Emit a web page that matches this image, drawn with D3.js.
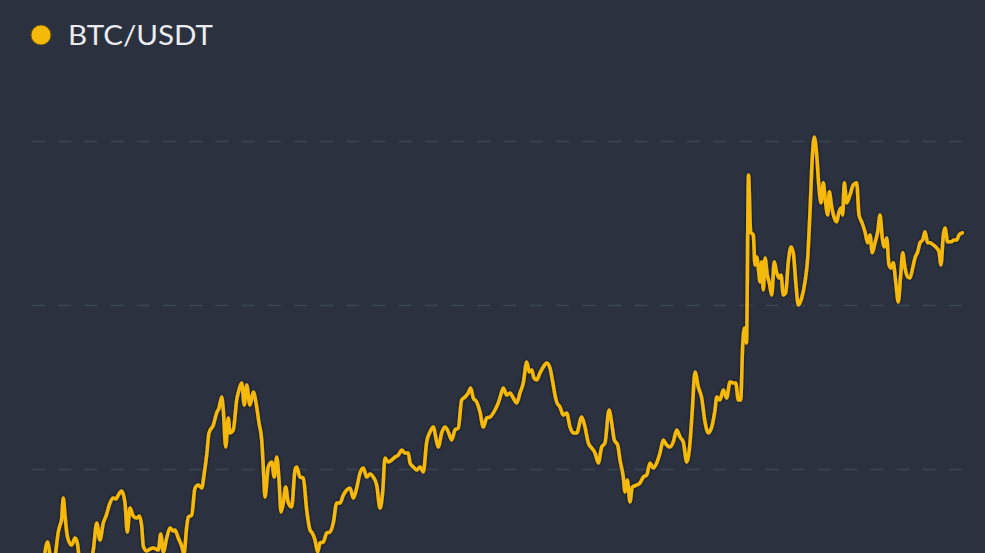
<!DOCTYPE html>
<html>
<head>
<meta charset="utf-8">
<script src="https://cdn.jsdelivr.net/npm/d3@7"></script>
<style>
  html, body { margin: 0; padding: 0; background: #2b313f; overflow: hidden; }
  svg { display: block; }
</style>
</head>
<body>
<svg id="chart" width="985" height="553"></svg>
<script>
// ---- data ----
const seriesName = "BTC/USDT";
const gridValues = [30000, 40000, 50000, 60000];
// [time index, price]
const btcPoints = [
  [0,34450],[2,35300],[3.7,35550],[5,35180],[7,34330],[10,34080],[12,35060],[14.3,36160],[16,36580],[17.5,36890],
  [19.3,38230],[21,37190],[22.7,36160],[24.3,35670],[27.7,35360],[31,35790],[33.3,35490],[35,34690],[38,33960],[43,33720],
  [47,34450],[49.3,35060],[52.7,36710],[56,35670],[59.3,36710],[62,37130],[66,37930],[69.3,38230],[72,38170],[74.3,38410],
  [77.7,38660],[81,37930],[83.3,36160],[86,37620],[89.3,37130],[92.7,37010],[95.3,37130],[97.7,36520],[99.3,35300],[102.7,35000],
  [106,35120],[109.3,35180],[114.3,35060],[116.7,36040],[119.3,34940],[122.7,35790],[126,36400],[129.3,36220],[131,36280],[134.3,35790],
  [137.7,35300],[140,34820],[142.7,36460],[144.3,37070],[147.7,37190],[151,38840],[154.3,39020],[157.7,38840],[160.3,39760],[162.7,40850],
  [165,42200],[169.3,42680],[172.7,43420],[175,43720],[177.7,44390],[179.3,43600],[181.7,41340],[184.3,43110],[186,42200],[189.3,42380],
  [192.7,44210],[195,44820],[197.7,45250],[200.3,43900],[202.7,45120],[206,43900],[209.3,44700],[212.7,43780],[215,42810],[217.7,41770],
  [219.3,40120],[221,38290],[224.3,40120],[227.7,40430],[230.3,39510],[232.7,40730],[235,39330],[237,37380],[239.3,37930],[241.7,38900],
  [244.3,37930],[247.7,37680],[251,39940],[252.7,40120],[256,39510],[259.3,39450],[262.7,37500],[266,36280],[268.3,36100],[271,35670],
  [273.7,34940],[276,35490],[279.3,35550],[282.7,36100],[286,36160],[289.3,36710],[292.7,37930],[296,37930],[299.3,38410],[302.7,38720],
  [306,38840],[309.3,38230],[312.7,38840],[316,39760],[319.3,40060],[322.7,39510],[326,39700],[329.3,39510],[332.7,39020],[336,37620],
  [338.7,38600],[341,40670],[344.3,40430],[347.7,40550],[351,40730],[354.3,40850],[357.7,41160],[361,40980],[364.3,40980],[366,40370],
  [369.3,40120],[372.7,39940],[376,40120],[379.3,39820],[382.7,41650],[386,42260],[389.3,42560],[392.7,41650],[394.3,41340],[397.7,42200],
  [401,42560],[404.3,42260],[407.7,41770],[411,42380],[414.3,42500],[417.7,44210],[421,44390],[424.3,44640],[426.7,44940],[429.3,44330],
  [432.7,44090],[436,43480],[439.3,42560],[442.7,43110],[446,43170],[451,43600],[454.3,44030],[457.7,44700],[459.3,44940],[462.7,44510],
  [466,44640],[469.3,44330],[472.7,44030],[476,44640],[479.3,45250],[482.7,46530],[485.3,45920],[487.7,46040],[490,45550],[492.7,45430],
  [496,45860],[499.3,46220],[502.7,46470],[506,46160],[508.7,45310],[511,44510],[512.7,44090],[516,43780],[519.3,43290],[522.7,43420],
  [526,42560],[529.3,42200],[532.7,42200],[537.7,43170],[541,42560],[544.3,41590],[547.7,41280],[551,40980],[554.3,40370],[557.7,41340],
  [561,41590],[565,43600],[567.7,42810],[570.3,41770],[573.7,41460],[576,40550],[579.3,39510],[581,38600],[583.3,39330],[586,37990],
  [588.3,38900],[592.7,39020],[596,39150],[599.3,39510],[602.7,39630],[606,40370],[609.3,40060],[612.7,40370],[616,40980],[619.3,41770],
  [622.7,41460],[626,41340],[629.3,41650],[632.7,42380],[636,41950],[639.3,41650],[642.7,40430],[646,41590],[648.3,43600],[651,45920],
  [654.3,45000],[657.7,44330],[661,42870],[664.3,42200],[667.7,42560],[671,43600],[672.7,44390],[676,44210],[679.3,44820],[682.7,44330],
  [686,45310],[689.3,45250],[691.7,45250],[694.3,44210],[696.7,44210],[698.7,47560],[700.5,48600],[702.5,47690],[704.5,57930],[706.7,54460],
  [709.3,54270],[711,52440],[712.7,52930],[714.3,52260],[716,51410],[717.7,52630],[719.3,50920],[721,52870],[723.3,51830],[725.3,51350],
  [727.7,50610],[730.3,52630],[732.7,51960],[735,51650],[737,51830],[739.3,50610],[741.7,50740],[744.3,52630],[747,53540],[749.3,53180],
  [752,51220],[754.3,50000],[757.7,50430],[761,51410],[763.7,52870],[766,55680],[768.3,58970],[770.3,60250],[772.7,59150],[775,57140],
  [777,56230],[779.3,57450],[781,56590],[783.7,55490],[785.3,56900],[787.7,55980],[790.3,55310],[792.7,55070],[795,55680],[797,55920],
  [798.7,55490],[800.3,57450],[802.7,56230],[806,56710],[809.3,57320],[812.7,57450],[815,55490],[817.7,55070],[821,54460],[823.7,53790],
  [826,54270],[828.3,53180],[831,53790],[833.7,54460],[836,55490],[838.3,54090],[840.3,53540],[842.7,54090],[845,52440],[847,52260],
  [849.3,52570],[851.7,51410],[854.3,50190],[856.7,51830],[858.7,53180],[861,52260],[863.7,51710],[866,51650],[868.7,52260],[871,52870],
  [873.7,53240],[876,53790],[878.7,53970],[881,54460],[883.7,53790],[886,53790],[889.3,53660],[892.7,53480],[895,53240],[897,52440],
  [899.3,54270],[901,54700],[903.7,53850],[907,53850],[910.3,53970],[912.7,53970],[915,54270],[918.3,54400]
];

// ---- layout ----
const W = 985, H = 553;
const svg = d3.select("#chart");

const x = d3.scaleLinear().domain([0, 920]).range([44, 964]);
const y = d3.scaleLinear().domain([30000, 60000]).range([633, 141]);

// drop shadow filter for the line
const defs = svg.append("defs");
const f = defs.append("filter").attr("id", "shadow")
  .attr("x", "-5%").attr("y", "-5%").attr("width", "110%").attr("height", "110%");
f.append("feDropShadow").attr("dx", 0).attr("dy", 0)
  .attr("stdDeviation", 1.6).attr("flood-color", "#000").attr("flood-opacity", 0.75);

// grid lines (y axis with no labels)
const grid = svg.append("g").attr("class", "grid")
  .attr("transform", "translate(962,0)")
  .call(d3.axisLeft(y).tickValues(gridValues).tickSize(931).tickFormat(""));
grid.select(".domain").remove();
grid.selectAll(".tick line")
  .attr("stroke", "#394250")
  .attr("stroke-width", 2)
  .attr("stroke-dasharray", "13.1,13.1");

// line
const line = d3.line()
  .x(d => x(d[0]))
  .y(d => y(d[1]))
  .curve(d3.curveMonotoneX);

svg.append("path")
  .datum(btcPoints)
  .attr("fill", "none")
  .attr("stroke", "#f5b90a")
  .attr("stroke-width", 3.5)
  .attr("stroke-linejoin", "round")
  .attr("stroke-linecap", "round")
  .attr("filter", "url(#shadow)")
  .attr("d", line);

// legend
const legend = svg.append("g").attr("class", "legend");
legend.append("circle")
  .attr("cx", 41).attr("cy", 35).attr("r", 10)
  .attr("fill", "#f5b90a")
  .attr("stroke", "#6b5412").attr("stroke-width", 1);
legend.append("text")
  .attr("x", 68).attr("y", 44.5)
  .attr("fill", "#eaecef")
  .attr("font-family", "Lato, 'Open Sans', sans-serif")
  .attr("font-size", 26)
  .attr("textLength", 145)
  .attr("lengthAdjust", "spacingAndGlyphs")
  .text(seriesName);
</script>
</body>
</html>
